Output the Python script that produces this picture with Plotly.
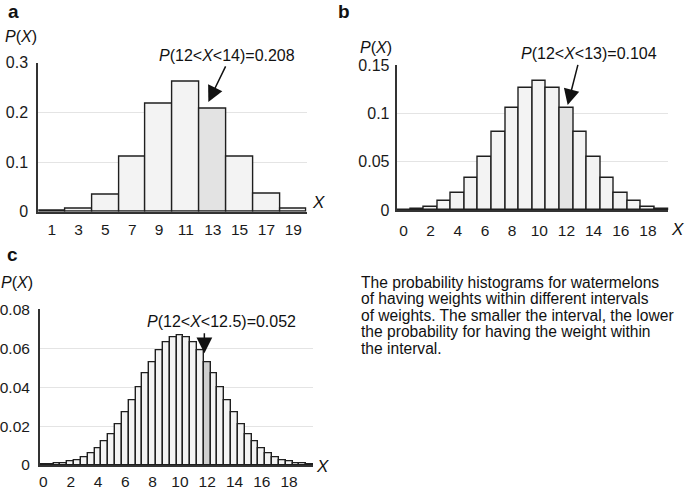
import plotly.graph_objects as go

W, H = 685, 490

# ---------------- data ----------------
a_centers = [1, 3, 5, 7, 9, 11, 13, 15, 17, 19]
a_values = [0.0013, 0.007, 0.035, 0.111, 0.218, 0.262, 0.208, 0.111, 0.036, 0.007]
a_highlight = 13

b_centers = list(range(0, 20))
b_values = [0.0003, 0.001, 0.003, 0.009, 0.018, 0.033, 0.055, 0.081, 0.106, 0.126,
            0.133, 0.126, 0.106, 0.081, 0.055, 0.033, 0.018, 0.009, 0.003, 0.001]
b_highlight = 12

c_centers = [i * 0.5 for i in range(40)]
c_values = [0.0002, 0.0003, 0.0007, 0.001, 0.0017, 0.0025, 0.004, 0.006, 0.0087, 0.012,
            0.016, 0.021, 0.027, 0.033, 0.040, 0.047, 0.053, 0.059, 0.063, 0.0655,
            0.0665, 0.0655, 0.063, 0.059, 0.053, 0.047, 0.040, 0.033, 0.027, 0.021,
            0.016, 0.012, 0.0087, 0.006, 0.004, 0.0025, 0.0017, 0.001, 0.0007, 0.0003]
c_highlight = 12.0

a_xticks = [1, 3, 5, 7, 9, 11, 13, 15, 17, 19]
b_xticks = [0, 2, 4, 6, 8, 10, 12, 14, 16, 18]
c_xticks = [0, 2, 4, 6, 8, 10, 12, 14, 16, 18]
a_yticks = [0, 0.1, 0.2, 0.3]
a_yticktext = ["0", "0.1", "0.2", "0.3"]
b_yticks = [0, 0.05, 0.1, 0.15]
b_yticktext = ["0", "0.05", "0.1", "0.15"]
c_yticks = [0, 0.02, 0.04, 0.06, 0.08]
c_yticktext = ["0", "0.02", "0.04", "0.06", "0.08"]

a_label = "<i>P</i>(12&lt;<i>X</i>&lt;14)=0.208"
b_label = "<i>P</i>(12&lt;<i>X</i>&lt;13)=0.104"
c_label = "<i>P</i>(12&lt;<i>X</i>&lt;12.5)=0.052"

caption_lines = [
    "The probability histograms for watermelons",
    "of having weights within different intervals",
    "of weights. The smaller the interval, the lower",
    "the probability for having the weight within",
    "the interval.",
]

FONT = "Liberation Sans, Arial, Helvetica, sans-serif"
BAR = "#f3f3f3"
LINE = "#1f1f1f"
AXIS = "#333333"
GRID = "#e4e4e4"


def px(x):
    return x / W


def py(y):
    return 1 - y / H


fig = go.Figure()


def add_hist(centers, values, width, hl, hlcolor, xa, ya):
    colors = [hlcolor if abs(c - hl) < 1e-9 else BAR for c in centers]
    fig.add_trace(go.Bar(
        x=centers, y=values, width=width, marker=dict(color=colors, line=dict(color=LINE, width=1.4)),
        xaxis=xa, yaxis=ya, hoverinfo="skip", showlegend=False,
    ))


add_hist(a_centers, a_values, 2, a_highlight, "#e3e3e3", "x", "y")
add_hist(b_centers, b_values, 1, b_highlight, "#e3e3e3", "x2", "y2")
add_hist(c_centers, c_values, 0.5, c_highlight, "#cfcfcf", "x3", "y3")


def xax(domain, rng, ticks, standoff, anchor):
    return dict(domain=domain, range=rng, tickvals=ticks, ticktext=[str(t) for t in ticks],
                showline=True, linecolor=AXIS, linewidth=2, showgrid=False, zeroline=False,
                ticks="", ticklen=0, ticklabelstandoff=standoff,
                tickfont=dict(size=15.5, color="#1a1a1a"),
                anchor=anchor, automargin=False, fixedrange=True)


def yax(domain, rng, ticks, text, anchor, standoff, size=16):
    return dict(domain=domain, range=rng, tickvals=ticks, ticktext=text,
                showline=True, linecolor=AXIS, linewidth=2, showgrid=True, gridcolor=GRID,
                gridwidth=1, zeroline=False, ticks="", ticklen=0, ticklabelstandoff=standoff,
                tickfont=dict(size=size, color="#1a1a1a"), anchor=anchor,
                automargin=False, fixedrange=True)


xa = xax([px(38.3), px(306.7)], [0, 20], a_xticks, 3, "y")
xb = xax([px(396.7), px(668.3)], [-0.5, 19.5], b_xticks, 5, "y2")
xc = xax([px(40), px(313)], [-0.25, 19.75], c_xticks, 1, "y3")
ya = yax([py(211.7), py(62.7)], [0, 0.3], a_yticks, a_yticktext, "x", 5)
yb = yax([py(210), py(65)], [0, 0.15], b_yticks, b_yticktext, "x2", 2)
yc = yax([py(465), py(309.3)], [0, 0.08], c_yticks, c_yticktext, "x3", 5, 15.5)

anns = []


def txt(x, y, text, size=16, xanchor="center", bold=False):
    anns.append(dict(x=px(x), y=py(y), xref="paper", yref="paper", text=text, showarrow=False,
                     xanchor=xanchor, yanchor="middle",
                     font=dict(size=size, color="#111", family=FONT, weight="bold" if bold else "normal")))


# panel letters
txt(13, 11.5, "a", 19, bold=True)
txt(344, 12, "b", 19, bold=True)
txt(12, 254, "c", 19, bold=True)
# P(X) labels
txt(21, 36.5, "<i>P</i>(<i>X</i>)", 16)
txt(376, 47.5, "<i>P</i>(<i>X</i>)", 16)
txt(17, 282.5, "<i>P</i>(<i>X</i>)", 16)
# X labels
txt(318, 202, "<i>X</i>", 17)
txt(677, 229, "<i>X</i>", 17)
txt(322, 466, "<i>X</i>", 17)
# probability labels
txt(226.7, 55.8, a_label, 16)
txt(589, 54, b_label, 16)
txt(221, 321.5, c_label, 16)


# arrows
def arrow(x, y, xr, yr, ax, ay):
    anns.append(dict(x=x, y=y, xref=xr, yref=yr, ax=ax, ay=ay, axref="pixel", ayref="pixel",
                     text="", showarrow=True, arrowhead=2, arrowsize=2.1, arrowwidth=1.5,
                     arrowcolor="#111", standoff=0))


arrow(12.67, 0.221, "x", "y", 18, -37)
arrow(12.09, 0.1086, "x2", "y2", 10.6, -41.7)
arrow(11.79, 0.0574, "x3", "y3", 0, -21.6)

# caption
for i, line in enumerate(caption_lines):
    txt(359, 282 + i * 16.5, line, 15.6, xanchor="left")

fig.update_layout(
    width=W, height=H, margin=dict(l=0, r=0, t=0, b=0, autoexpand=False),
    paper_bgcolor="white", plot_bgcolor="white",
    font=dict(family=FONT, size=14, color="#111"),
    xaxis=xa, yaxis=ya, xaxis2=xb, yaxis2=yb, xaxis3=xc, yaxis3=yc,
    annotations=anns, bargap=0, showlegend=False,
)

fig.write_html(
    "out.html",
    config={"displayModeBar": False},
    post_script="document.body.style.margin='0px';document.body.style.overflow='hidden';",
)
